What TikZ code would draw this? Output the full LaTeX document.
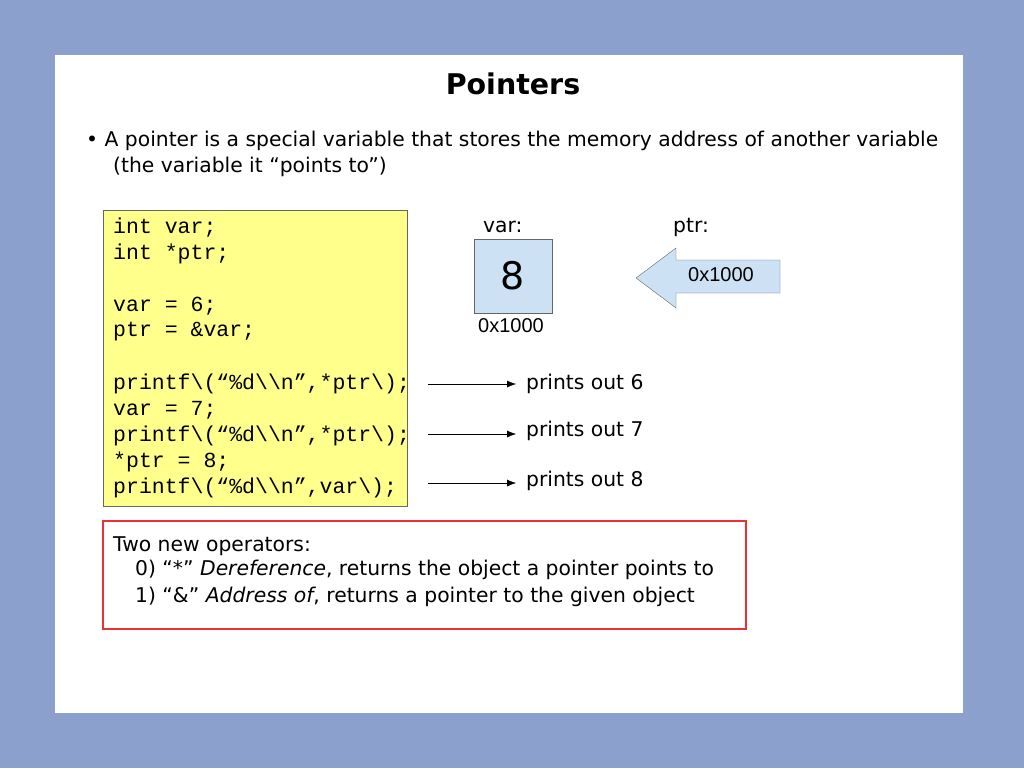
\documentclass[tikz,border=0pt]{standalone}
\usepackage{fontspec}
\setmainfont{DejaVu Sans}
\setmonofont{Liberation Mono}
\setsansfont{Liberation Sans}
\usetikzlibrary{arrows.meta,positioning}
\definecolor{slidebg}{RGB}{140,160,205}
\definecolor{codefill}{RGB}{255,255,140}
\definecolor{cellfill}{RGB}{205,225,245}
\definecolor{alertred}{RGB}{235,50,50}
\begin{document}
\begin{tikzpicture}[x=1pt,y=-1pt,
        codeline/.style={anchor=west, inner sep=0pt, font=\ttfamily\fontsize{21.5}{21.5}\selectfont},
        body/.style={anchor=west, inner sep=0pt, font=\fontsize{20.3}{20.3}\selectfont},
        addrtext/.style={anchor=west, inner sep=0pt, font=\sffamily\fontsize{20}{20}\selectfont},
        printarrow/.style={-{Latex[length=9pt,width=7pt]}, thin}
    ]
        \fill[slidebg] (0,0) rectangle (1024,768);
        \fill[white] (55,55) rectangle (963,713);
        \useasboundingbox (0,0) rectangle (1024,768);

        \node[font=\bfseries\fontsize{28.5}{28.5}\selectfont] (title) at (513,84) {Pointers};
        \node[body] (bullet) at (86,141) {• A pointer is a special variable that stores the memory address of another variable};
        \node[body] (bullet2) at (113,167) {(the variable it “points to”)};

        % code block
        \draw[fill=codefill, draw=black!60] (103,210) rectangle (407,506);
        \node[codeline] (c1) at (113,228) {int var;};
        \node[codeline] (c2) at (113,254) {int *ptr;};
        \node[codeline] (c3) at (113,306) {var = 6;};
        \node[codeline] (c4) at (113,332) {ptr = \&var;};
        \node[codeline] (c5) at (113,384) {printf\textbackslash(“\%d\textbackslash\textbackslash n”,*ptr\textbackslash);};
        \node[codeline] (c6) at (113,410) {var = 7;};
        \node[codeline] (c7) at (113,436) {printf\textbackslash(“\%d\textbackslash\textbackslash n”,*ptr\textbackslash);};
        \node[codeline] (c8) at (113,462) {*ptr = 8;};
        \node[codeline] (c9) at (113,488) {printf\textbackslash(“\%d\textbackslash\textbackslash n”,var\textbackslash);};

        % memory cells
        \node[body] (varlbl) at (483,227) {var:};
        \node[draw=black!60, fill=cellfill, minimum width=78pt, minimum height=74pt, font=\fontsize{38}{38}\selectfont] (cell) at (513,276) {8};
        \node[addrtext] (addr) at (478,326) {0x1000};
        \node[body] (ptrlbl) at (673,227) {ptr:};
        \draw[draw=black!60, fill=cellfill] (636,278) -- (676,248) -- (676,260) -- (780,260)
            -- (780,293) -- (676,293) -- (676,308) -- cycle;
        \node[addrtext] (ptrval) at (688,275) {0x1000};

        % outputs
        \node[body] (out6) at (526,384) {prints out 6};
        \node[body] (out7) at (526,431) {prints out 7};
        \node[body] (out8) at (526,481) {prints out 8};
        \coordinate (a6) at (428,384);
        \coordinate (a7) at (428,434);
        \coordinate (a8) at (428,483);
        \draw[printarrow] (a6) -- (516,384);
        \draw[printarrow] (a7) -- (516,434);
        \draw[printarrow] (a8) -- (516,483);

        % operators
        \draw[alertred, line width=1.5pt] (103,521) rectangle (746,629);
        \node[body] (ops) at (113,546) {Two new operators:};
        \node[body] (op0) at (135,570) {0) “*” \textit{Dereference}, returns the object a pointer points to};
        \node[body] (op1) at (135,597) {1) “\&” \textit{Address of}, returns a pointer to the given object};
    \end{tikzpicture}
\end{document}
